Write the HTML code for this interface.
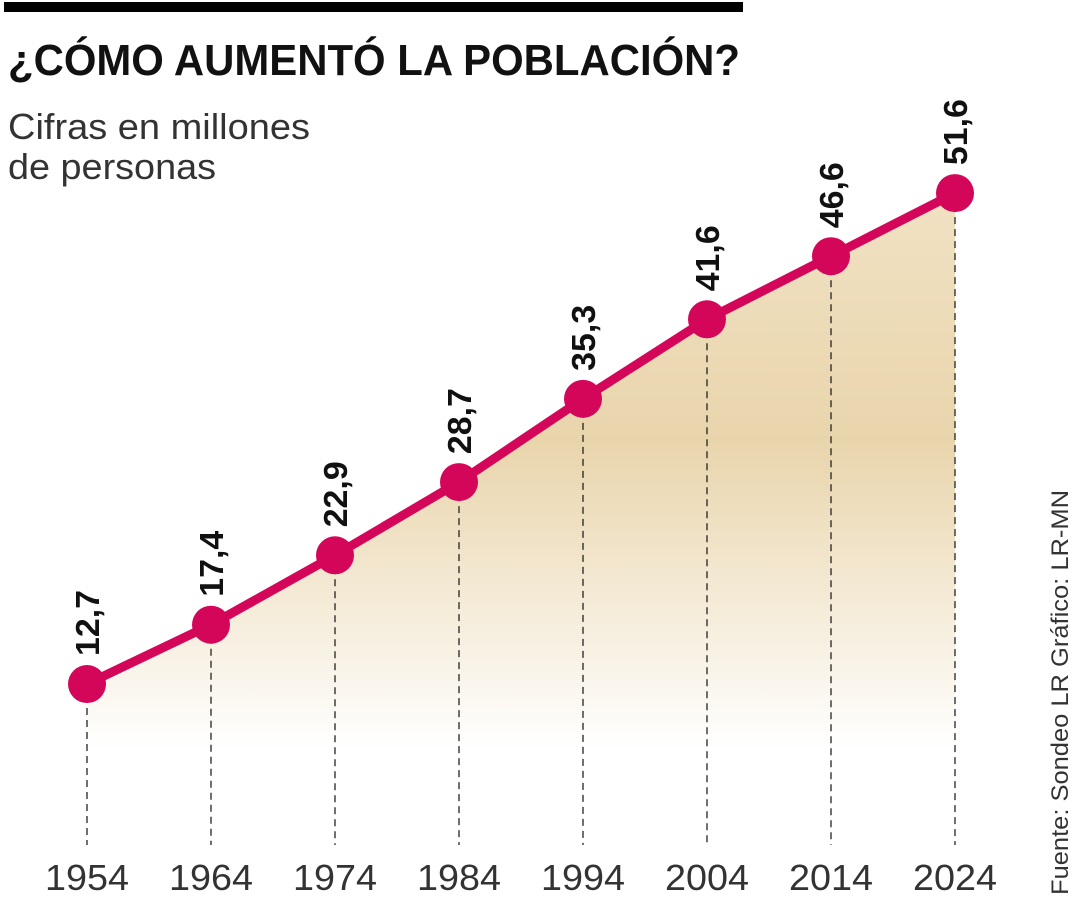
<!DOCTYPE html>
<html><head><meta charset="utf-8"><style>
html,body{margin:0;padding:0;background:#fff;width:1080px;height:900px;overflow:hidden}
svg{display:block;font-family:"Liberation Sans",sans-serif}
</style></head><body>
<svg id="chart" width="1080" height="900" viewBox="0 0 1080 900">
<defs>
<linearGradient id="fillGrad" gradientUnits="userSpaceOnUse" x1="0" y1="190" x2="0" y2="750">
<stop offset="0" stop-color="#f1e2c4"/>
<stop offset="0.45" stop-color="#e9d5ac"/>
<stop offset="1" stop-color="#ffffff"/>
</linearGradient>
</defs>
<rect x="4" y="2" width="739" height="10" fill="#000"/>
<text x="8" y="75" font-size="44" font-weight="bold" textLength="732" lengthAdjust="spacingAndGlyphs" fill="#111">¿CÓMO AUMENTÓ LA POBLACIÓN?</text>
<text x="8" y="139" font-size="36" fill="#333" textLength="302" lengthAdjust="spacingAndGlyphs">Cifras en millones</text>
<text x="8" y="179" font-size="36" fill="#333" textLength="208" lengthAdjust="spacingAndGlyphs">de personas</text>
<text transform="translate(1068,895) rotate(-90)" font-size="24" fill="#333" textLength="405" lengthAdjust="spacingAndGlyphs">Fuente: Sondeo LR  Gráfico: LR-MN</text>
<g id="plot"></g>
</svg>
<script>
const years = ['1954','1964','1974','1984','1994','2004','2014','2024'];
const values = [12.7,17.4,22.9,28.7,35.3,41.6,46.6,51.6];
const valueLabels = ['12,7','17,4','22,9','28,7','35,3','41,6','46,6','51,6'];

const NS='http://www.w3.org/2000/svg';
const g=document.getElementById('plot');
function xScale(i){return 87+i*124;}
function yScale(v){return 844.3-v*12.62;}
function mk(tag,attrs){const e=document.createElementNS(NS,tag);for(const k in attrs)e.setAttribute(k,attrs[k]);g.appendChild(e);return e;}

let pts=values.map((v,i)=>[xScale(i),yScale(v)]);
let area='M'+pts.map(p=>p.join(',')).join(' L')+' L'+xScale(values.length-1)+',760 L'+xScale(0)+',760 Z';
const a=mk('path',{d:area,fill:'url(#fillGrad)'});



values.forEach((v,i)=>{
  const l=mk('line',{x1:xScale(i),y1:yScale(v),x2:xScale(i),y2:845,stroke:'#222','stroke-width':1.3,'stroke-dasharray':'7,5'});
  
  
  const t=mk('text',{x:xScale(i),y:890,'font-size':36,'text-anchor':'middle',fill:'#333',textLength:84,lengthAdjust:'spacingAndGlyphs'});
  t.textContent=years[i];
  
  
});

const line=mk('polyline',{points:pts.map(p=>p.join(',')).join(' '),fill:'none',stroke:'#d4065a','stroke-width':9,'stroke-linejoin':'round'});



values.forEach((v,i)=>{
  const c=mk('circle',{cx:xScale(i),cy:yScale(v),r:19,fill:'#d4065a'});
  
  
  const t=mk('text',{transform:`translate(${xScale(i)+12},${yScale(v)-28}) rotate(-90)`,'font-size':33,'font-weight':'bold',fill:'#111',textLength:66,lengthAdjust:'spacingAndGlyphs'});
  t.textContent=valueLabels[i];
  
  
});
</script>
</body></html>
